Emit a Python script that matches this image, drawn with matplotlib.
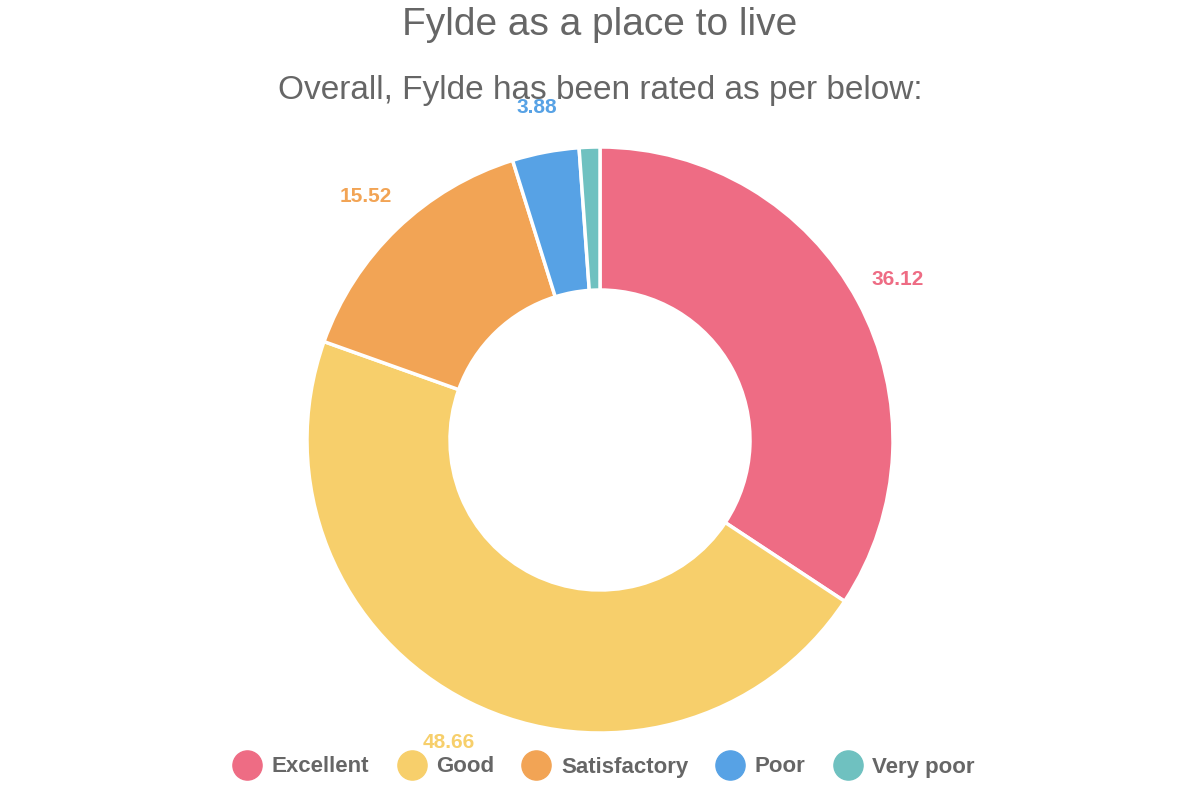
import numpy as np
import matplotlib
matplotlib.use("Agg")
import matplotlib.pyplot as plt
from matplotlib.lines import Line2D

plt.rcParams["font.family"] = ["Liberation Sans", "DejaVu Sans"]

categories = ["Excellent", "Good", "Satisfactory", "Poor", "Very poor"]
values = [36.12, 48.66, 15.52, 3.88, 1.2]
shown = [True, True, True, True, False]
colors = ["#ee6c84", "#f7cf6b", "#f2a455", "#57a2e5", "#6fc1c0"]

fig = plt.figure(figsize=(12, 8), dpi=100)
ax = fig.add_axes([0, 0, 1, 1])

R = 293
ax.pie(values, colors=colors, radius=R, startangle=90, counterclock=False,
       wedgeprops=dict(width=R - 150, edgecolor="white", linewidth=2.5))
ax.set_xlim(-600, 600)
ax.set_ylim(-360, 440)
ax.set_aspect("equal")
ax.axis("off")

total = sum(values)
start = 90
for v, c, s in zip(values, colors, shown):
    sweep = v / total * 360
    mid = np.deg2rad(start - sweep / 2)
    start -= sweep
    if s:
        ax.text(338 * np.cos(mid), 338 * np.sin(mid), f"{v:.2f}", color=c,
                fontsize=15, fontweight="bold", ha="center", va="center")

fig.text(0.5, 1 - 25 / 800, "Fylde as a place to live", ha="center", va="center",
         fontsize=28, color="#666666")
fig.text(0.5, 1 - 90 / 800, "Overall, Fylde has been rated as per below:", ha="center",
         va="center", fontsize=24, color="#666666")

handles = [Line2D([], [], marker="o", linestyle="", markersize=21, color=c) for c in colors]
leg = fig.legend(handles, categories, loc="center", bbox_to_anchor=(0.5, 1 - 767 / 800),
                 ncol=5, frameon=False, handletextpad=0.1, columnspacing=0.9,
                 prop=dict(size=16, weight="bold"))
for t in leg.get_texts():
    t.set_color("#666666")

fig.savefig("out.png", dpi=100)
